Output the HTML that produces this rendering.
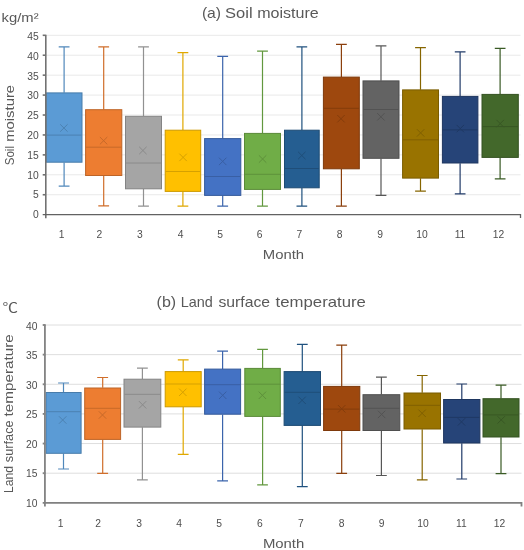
<!DOCTYPE html>
<html><head><meta charset="utf-8"><title>Soil moisture and land surface temperature</title>
<style>
html,body{margin:0;padding:0;background:#fff}
svg{display:block}
text{font-family:"Liberation Sans","Noto Sans CJK SC",sans-serif;fill:#595959}
text.t{fill:#4E4E4E}
</style></head><body>
<svg width="524" height="550" viewBox="0 0 524 550">
<rect width="524" height="550" fill="#fff"/>

<line x1="45.5" x2="520.5" y1="35.30" y2="35.30" stroke="#E9E9E9" stroke-width="1"/>
<line x1="45.5" x2="520.5" y1="55.23" y2="55.23" stroke="#E9E9E9" stroke-width="1"/>
<line x1="45.5" x2="520.5" y1="75.16" y2="75.16" stroke="#E9E9E9" stroke-width="1"/>
<line x1="45.5" x2="520.5" y1="95.09" y2="95.09" stroke="#E9E9E9" stroke-width="1"/>
<line x1="45.5" x2="520.5" y1="115.02" y2="115.02" stroke="#E9E9E9" stroke-width="1"/>
<line x1="45.5" x2="520.5" y1="134.95" y2="134.95" stroke="#E9E9E9" stroke-width="1"/>
<line x1="45.5" x2="520.5" y1="154.88" y2="154.88" stroke="#E9E9E9" stroke-width="1"/>
<line x1="45.5" x2="520.5" y1="174.81" y2="174.81" stroke="#E9E9E9" stroke-width="1"/>
<line x1="45.5" x2="520.5" y1="194.74" y2="194.74" stroke="#E9E9E9" stroke-width="1"/>
<g stroke="#487CAA" stroke-width="1" fill="none">
<path stroke="#5088BB" stroke-width="1.2" d="M64.1 46.8V92.7M58.7 46.8H69.5M64.1 162.4V186.2M58.7 186.2H69.5"/>
<rect x="46.2" y="92.9" width="35.8" height="69.3" fill="#5B9BD5"/>
<path stroke="#4C82B2" d="M46.5 135.1H81.7"/>
<path stroke="#4C82B2" d="M60.2 124.3L67.6 131.7M60.2 131.7L67.6 124.3"/>
</g>
<g stroke="#BD6427" stroke-width="1" fill="none">
<path stroke="#D06E2B" stroke-width="1.2" d="M103.7 46.8V109.5M98.3 46.8H109.1M103.7 175.7V205.8M98.3 205.8H109.1"/>
<rect x="85.6" y="109.7" width="36.2" height="65.8" fill="#ED7D31"/>
<path stroke="#C76929" d="M85.9 147.2H121.5"/>
<path stroke="#C76929" d="M99.9 137.0L107.3 144.4M99.9 144.4L107.3 137.0"/>
</g>
<g stroke="#848484" stroke-width="1" fill="none">
<path stroke="#919191" stroke-width="1.2" d="M143.5 46.8V116.1M138.1 46.8H148.9M143.5 189.0V206.1M138.1 206.1H148.9"/>
<rect x="125.5" y="116.3" width="36.0" height="72.5" fill="#A5A5A5"/>
<path stroke="#8A8A8A" d="M125.8 163.0H161.2"/>
<path stroke="#8A8A8A" d="M139.2 146.8L146.6 154.2M139.2 154.2L146.6 146.8"/>
</g>
<g stroke="#CC9900" stroke-width="1" fill="none">
<path stroke="#E0A800" stroke-width="1.2" d="M182.9 52.6V130.0M177.5 52.6H188.3M182.9 191.6V206.1M177.5 206.1H188.3"/>
<rect x="165.2" y="130.2" width="35.5" height="61.2" fill="#FFC000"/>
<path stroke="#D6A100" d="M165.5 171.5H200.4"/>
<path stroke="#D6A100" d="M179.4 153.7L186.8 161.1M179.4 161.1L186.8 153.7"/>
</g>
<g stroke="#365B9C" stroke-width="1" fill="none">
<path stroke="#3B64AC" stroke-width="1.2" d="M222.7 56.3V138.4M217.3 56.3H228.1M222.7 195.6V206.1M217.3 206.1H228.1"/>
<rect x="204.6" y="138.6" width="36.2" height="56.8" fill="#4472C4"/>
<path stroke="#395FA4" d="M204.9 176.5H240.5"/>
<path stroke="#395FA4" d="M219.0 157.7L226.4 165.1M219.0 165.1L226.4 157.7"/>
</g>
<g stroke="#598A38" stroke-width="1" fill="none">
<path stroke="#62983E" stroke-width="1.2" d="M262.5 51.1V133.2M257.1 51.1H267.9M262.5 189.6V206.1M257.1 206.1H267.9"/>
<rect x="244.5" y="133.4" width="36.0" height="56.0" fill="#70AD47"/>
<path stroke="#5E913B" d="M244.8 174.3H280.2"/>
<path stroke="#5E913B" d="M258.9 155.3L266.3 162.7M258.9 162.7L266.3 155.3"/>
</g>
<g stroke="#1D4B74" stroke-width="1" fill="none">
<path stroke="#20527F" stroke-width="1.2" d="M301.9 46.8V130.0M296.5 46.8H307.2M301.9 188.0V206.1M296.5 206.1H307.2"/>
<rect x="284.5" y="130.2" width="34.7" height="57.6" fill="#255E91"/>
<path stroke="#1F4E79" d="M284.8 168.5H318.9"/>
<path stroke="#1F4E79" d="M298.1 151.8L305.5 159.2M298.1 159.2L305.5 151.8"/>
</g>
<g stroke="#7E390B" stroke-width="1" fill="none">
<path stroke="#8B3F0C" stroke-width="1.2" d="M341.4 44.3V76.9M336.0 44.3H346.8M341.4 169.0V206.1M336.0 206.1H346.8"/>
<rect x="323.4" y="77.1" width="35.9" height="91.7" fill="#9E480E"/>
<path stroke="#843C0B" d="M323.7 108.3H359.0"/>
<path stroke="#843C0B" d="M337.3 115.0L344.7 122.4M337.3 122.4L344.7 115.0"/>
</g>
<g stroke="#4F4F4F" stroke-width="1" fill="none">
<path stroke="#575757" stroke-width="1.2" d="M381.0 45.8V80.7M375.6 45.8H386.4M381.0 158.5V195.4M375.6 195.4H386.4"/>
<rect x="363.0" y="80.9" width="36.0" height="77.4" fill="#636363"/>
<path stroke="#535353" d="M363.3 109.5H398.7"/>
<path stroke="#535353" d="M377.2 113.1L384.6 120.5M377.2 120.5L384.6 113.1"/>
</g>
<g stroke="#7A5C00" stroke-width="1" fill="none">
<path stroke="#866500" stroke-width="1.2" d="M420.5 47.6V89.7M415.1 47.6H425.9M420.5 178.3V191.1M415.1 191.1H425.9"/>
<rect x="402.6" y="89.9" width="35.9" height="88.2" fill="#997300"/>
<path stroke="#806000" d="M402.9 139.8H438.2"/>
<path stroke="#806000" d="M416.9 129.2L424.3 136.6M416.9 136.6L424.3 129.2"/>
</g>
<g stroke="#1E3660" stroke-width="1" fill="none">
<path stroke="#213B69" stroke-width="1.2" d="M460.1 51.8V96.2M454.8 51.8H465.5M460.1 163.2V193.9M454.8 193.9H465.5"/>
<rect x="442.4" y="96.4" width="35.5" height="66.6" fill="#264478"/>
<path stroke="#1F3964" d="M442.7 129.9H477.6"/>
<path stroke="#1F3964" d="M456.6 124.9L464.0 132.3M456.6 132.3L464.0 124.9"/>
</g>
<g stroke="#355322" stroke-width="1" fill="none">
<path stroke="#3A5B25" stroke-width="1.2" d="M500.1 48.3V94.2M494.8 48.3H505.5M500.1 157.6V178.8M494.8 178.8H505.5"/>
<rect x="482.0" y="94.4" width="36.3" height="63.0" fill="#43682B"/>
<path stroke="#385724" d="M482.3 126.6H518.0"/>
<path stroke="#385724" d="M496.5 119.9L503.9 127.3M496.5 127.3L503.9 119.9"/>
</g>
<g stroke="#727272" stroke-width="1.60" fill="none">
<path d="M45.8 34.8V218.2"/>
<path stroke="#626262" stroke-width="1.30" d="M42.7 214.6H520.5V218.1"/>
<path d="M42.7 35.30H45.5"/>
<path d="M42.7 55.23H45.5"/>
<path d="M42.7 75.16H45.5"/>
<path d="M42.7 95.09H45.5"/>
<path d="M42.7 115.02H45.5"/>
<path d="M42.7 134.95H45.5"/>
<path d="M42.7 154.88H45.5"/>
<path d="M42.7 174.81H45.5"/>
<path d="M42.7 194.74H45.5"/>
</g>
<text x="38.7" y="40.0" font-size="10.3" class="t" text-anchor="end">45</text>
<text x="38.7" y="59.8" font-size="10.3" class="t" text-anchor="end">40</text>
<text x="38.7" y="79.6" font-size="10.3" class="t" text-anchor="end">35</text>
<text x="38.7" y="99.4" font-size="10.3" class="t" text-anchor="end">30</text>
<text x="38.7" y="119.1" font-size="10.3" class="t" text-anchor="end">25</text>
<text x="38.7" y="138.9" font-size="10.3" class="t" text-anchor="end">20</text>
<text x="38.7" y="158.7" font-size="10.3" class="t" text-anchor="end">15</text>
<text x="38.7" y="178.5" font-size="10.3" class="t" text-anchor="end">10</text>
<text x="38.7" y="198.3" font-size="10.3" class="t" text-anchor="end">5</text>
<text x="38.7" y="218.1" font-size="10.3" class="t" text-anchor="end">0</text>
<text x="61.5" y="238.1" font-size="10.3" class="t" text-anchor="middle">1</text>
<text x="99.4" y="238.1" font-size="10.3" class="t" text-anchor="middle">2</text>
<text x="139.9" y="238.1" font-size="10.3" class="t" text-anchor="middle">3</text>
<text x="180.6" y="238.1" font-size="10.3" class="t" text-anchor="middle">4</text>
<text x="220.2" y="238.1" font-size="10.3" class="t" text-anchor="middle">5</text>
<text x="259.5" y="238.1" font-size="10.3" class="t" text-anchor="middle">6</text>
<text x="299.3" y="238.1" font-size="10.3" class="t" text-anchor="middle">7</text>
<text x="339.7" y="238.1" font-size="10.3" class="t" text-anchor="middle">8</text>
<text x="380.1" y="238.1" font-size="10.3" class="t" text-anchor="middle">9</text>
<text x="421.9" y="238.1" font-size="10.3" class="t" text-anchor="middle">10</text>
<text x="460.0" y="238.1" font-size="10.3" class="t" text-anchor="middle">11</text>
<text x="498.4" y="238.1" font-size="10.3" class="t" text-anchor="middle">12</text>
<line x1="45.5" x2="521.5" y1="325.00" y2="325.00" stroke="#DEDEDE" stroke-width="1"/>
<line x1="45.5" x2="521.5" y1="354.64" y2="354.64" stroke="#DEDEDE" stroke-width="1"/>
<line x1="45.5" x2="521.5" y1="384.28" y2="384.28" stroke="#DEDEDE" stroke-width="1"/>
<line x1="45.5" x2="521.5" y1="413.92" y2="413.92" stroke="#DEDEDE" stroke-width="1"/>
<line x1="45.5" x2="521.5" y1="443.56" y2="443.56" stroke="#DEDEDE" stroke-width="1"/>
<line x1="45.5" x2="521.5" y1="473.20" y2="473.20" stroke="#DEDEDE" stroke-width="1"/>
<g stroke="#487CAA" stroke-width="1" fill="none">
<path stroke="#5088BB" stroke-width="1.2" d="M63.5 383.0V392.3M58.1 383.0H69.0M63.5 453.5V469.0M58.1 469.0H69.0"/>
<rect x="46.0" y="392.5" width="35.1" height="60.8" fill="#5B9BD5"/>
<path stroke="#4C82B2" d="M46.3 411.7H80.8"/>
<path stroke="#4C82B2" d="M59.0 416.3L66.4 423.7M59.0 423.7L66.4 416.3"/>
</g>
<g stroke="#BD6427" stroke-width="1" fill="none">
<path stroke="#D06E2B" stroke-width="1.2" d="M102.7 377.5V387.8M97.2 377.5H108.1M102.7 439.6V473.3M97.2 473.3H108.1"/>
<rect x="84.7" y="388.0" width="35.9" height="51.4" fill="#ED7D31"/>
<path stroke="#C76929" d="M85.0 408.3H120.3"/>
<path stroke="#C76929" d="M98.8 411.3L106.2 418.7M98.8 418.7L106.2 411.3"/>
</g>
<g stroke="#848484" stroke-width="1" fill="none">
<path stroke="#919191" stroke-width="1.2" d="M142.4 368.2V379.0M137.0 368.2H147.8M142.4 427.3V479.9M137.0 479.9H147.8"/>
<rect x="124.0" y="379.2" width="36.8" height="47.9" fill="#A5A5A5"/>
<path stroke="#8A8A8A" d="M124.3 394.3H160.5"/>
<path stroke="#8A8A8A" d="M138.9 401.1L146.3 408.5M138.9 408.5L146.3 401.1"/>
</g>
<g stroke="#CC9900" stroke-width="1" fill="none">
<path stroke="#E0A800" stroke-width="1.2" d="M183.2 359.9V371.4M177.8 359.9H188.6M183.2 407.0V454.3M177.8 454.3H188.6"/>
<rect x="165.2" y="371.6" width="36.0" height="35.2" fill="#FFC000"/>
<path stroke="#D6A100" d="M165.5 384.0H200.9"/>
<path stroke="#D6A100" d="M179.1 388.6L186.5 396.0M179.1 396.0L186.5 388.6"/>
</g>
<g stroke="#365B9C" stroke-width="1" fill="none">
<path stroke="#3B64AC" stroke-width="1.2" d="M222.6 351.1V368.9M217.2 351.1H228.0M222.6 414.4V480.8M217.2 480.8H228.0"/>
<rect x="204.6" y="369.1" width="36.0" height="45.1" fill="#4472C4"/>
<path stroke="#395FA4" d="M204.9 384.7H240.3"/>
<path stroke="#395FA4" d="M219.0 391.6L226.4 399.0M219.0 399.0L226.4 391.6"/>
</g>
<g stroke="#598A38" stroke-width="1" fill="none">
<path stroke="#62983E" stroke-width="1.2" d="M262.6 349.4V368.2M257.2 349.4H267.9M262.6 416.6V484.8M257.2 484.8H267.9"/>
<rect x="244.8" y="368.4" width="35.5" height="48.0" fill="#70AD47"/>
<path stroke="#5E913B" d="M245.1 384.2H280.0"/>
<path stroke="#5E913B" d="M258.7 391.6L266.1 399.0M258.7 399.0L266.1 391.6"/>
</g>
<g stroke="#1D4B74" stroke-width="1" fill="none">
<path stroke="#20527F" stroke-width="1.2" d="M302.3 344.3V371.4M296.9 344.3H307.7M302.3 425.6V486.6M296.9 486.6H307.7"/>
<rect x="284.1" y="371.6" width="36.4" height="53.8" fill="#255E91"/>
<path stroke="#1F4E79" d="M284.4 392.3H320.2"/>
<path stroke="#1F4E79" d="M298.4 396.6L305.8 404.0M298.4 404.0L305.8 396.6"/>
</g>
<g stroke="#7E390B" stroke-width="1" fill="none">
<path stroke="#8B3F0C" stroke-width="1.2" d="M341.7 345.1V386.2M336.3 345.1H347.1M341.7 430.7V473.3M336.3 473.3H347.1"/>
<rect x="323.6" y="386.4" width="36.2" height="44.1" fill="#9E480E"/>
<path stroke="#843C0B" d="M323.9 409.1H359.5"/>
<path stroke="#843C0B" d="M338.0 405.1L345.4 412.5M338.0 412.5L345.4 405.1"/>
</g>
<g stroke="#4F4F4F" stroke-width="1" fill="none">
<path stroke="#575757" stroke-width="1.2" d="M381.4 377.2V394.5M376.0 377.2H386.8M381.4 430.7V475.5M376.0 475.5H386.8"/>
<rect x="363.0" y="394.7" width="36.8" height="35.8" fill="#636363"/>
<path stroke="#535353" d="M363.3 408.3H399.5"/>
<path stroke="#535353" d="M377.9 410.7L385.3 418.1M377.9 418.1L385.3 410.7"/>
</g>
<g stroke="#7A5C00" stroke-width="1" fill="none">
<path stroke="#866500" stroke-width="1.2" d="M422.2 375.5V392.8M416.9 375.5H427.6M422.2 429.2V479.8M416.9 479.8H427.6"/>
<rect x="404.0" y="393.0" width="36.5" height="36.0" fill="#997300"/>
<path stroke="#806000" d="M404.3 405.3H440.2"/>
<path stroke="#806000" d="M418.4 409.6L425.8 417.0M418.4 417.0L425.8 409.6"/>
</g>
<g stroke="#1E3660" stroke-width="1" fill="none">
<path stroke="#213B69" stroke-width="1.2" d="M461.8 384.0V399.3M456.4 384.0H467.1M461.8 443.2V479.0M456.4 479.0H467.1"/>
<rect x="443.6" y="399.5" width="36.3" height="43.5" fill="#264478"/>
<path stroke="#1F3964" d="M443.9 417.4H479.6"/>
<path stroke="#1F3964" d="M457.8 418.2L465.2 425.6M457.8 425.6L465.2 418.2"/>
</g>
<g stroke="#355322" stroke-width="1" fill="none">
<path stroke="#3A5B25" stroke-width="1.2" d="M501.0 385.2V398.5M495.6 385.2H506.4M501.0 437.2V473.7M495.6 473.7H506.4"/>
<rect x="483.0" y="398.7" width="36.0" height="38.3" fill="#43682B"/>
<path stroke="#385724" d="M483.3 414.9H518.7"/>
<path stroke="#385724" d="M497.5 416.2L504.9 423.6M497.5 423.6L504.9 416.2"/>
</g>
<g stroke="#848484" stroke-width="1.85" fill="none">
<path d="M44.9 324.5V506.5"/>
<path stroke="#808080" stroke-width="1.80" d="M42.7 502.9H521.5V506.4"/>
<path d="M42.7 325.00H45.5"/>
<path d="M42.7 354.64H45.5"/>
<path d="M42.7 384.28H45.5"/>
<path d="M42.7 413.92H45.5"/>
<path d="M42.7 443.56H45.5"/>
<path d="M42.7 473.20H45.5"/>
</g>
<text x="37.4" y="329.7" font-size="10.3" class="t" text-anchor="end">40</text>
<text x="37.4" y="359.2" font-size="10.3" class="t" text-anchor="end">35</text>
<text x="37.4" y="388.7" font-size="10.3" class="t" text-anchor="end">30</text>
<text x="37.4" y="418.2" font-size="10.3" class="t" text-anchor="end">25</text>
<text x="37.4" y="447.7" font-size="10.3" class="t" text-anchor="end">20</text>
<text x="37.4" y="477.2" font-size="10.3" class="t" text-anchor="end">15</text>
<text x="37.4" y="506.8" font-size="10.3" class="t" text-anchor="end">10</text>
<text x="60.5" y="526.6" font-size="10.3" class="t" text-anchor="middle">1</text>
<text x="98.1" y="526.6" font-size="10.3" class="t" text-anchor="middle">2</text>
<text x="139.0" y="526.6" font-size="10.3" class="t" text-anchor="middle">3</text>
<text x="179.1" y="526.6" font-size="10.3" class="t" text-anchor="middle">4</text>
<text x="219.2" y="526.6" font-size="10.3" class="t" text-anchor="middle">5</text>
<text x="259.9" y="526.6" font-size="10.3" class="t" text-anchor="middle">6</text>
<text x="300.8" y="526.6" font-size="10.3" class="t" text-anchor="middle">7</text>
<text x="341.5" y="526.6" font-size="10.3" class="t" text-anchor="middle">8</text>
<text x="381.6" y="526.6" font-size="10.3" class="t" text-anchor="middle">9</text>
<text x="423.1" y="526.6" font-size="10.3" class="t" text-anchor="middle">10</text>
<text x="461.3" y="526.6" font-size="10.3" class="t" text-anchor="middle">11</text>
<text x="499.6" y="526.6" font-size="10.3" class="t" text-anchor="middle">12</text>
<text x="201.9" y="18.3" font-size="15.0" textLength="19.2" lengthAdjust="spacingAndGlyphs">(a)</text>
<text x="225.1" y="18.3" font-size="15.0" textLength="27.5" lengthAdjust="spacingAndGlyphs">Soil</text>
<text x="257.2" y="18.3" font-size="15.0" textLength="61.6" lengthAdjust="spacingAndGlyphs">moisture</text>
<text x="156.6" y="307.4" font-size="15.0" textLength="19.6" lengthAdjust="spacingAndGlyphs">(b)</text>
<text x="180.8" y="307.4" font-size="15.0" textLength="32.1" lengthAdjust="spacingAndGlyphs">Land</text>
<text x="218.4" y="307.4" font-size="15.0" textLength="51.7" lengthAdjust="spacingAndGlyphs">surface</text>
<text x="275.6" y="307.4" font-size="15.0" textLength="90.3" lengthAdjust="spacingAndGlyphs">temperature</text>
<text x="262.8" y="259.4" font-size="13.4" textLength="41.3" lengthAdjust="spacingAndGlyphs">Month</text>
<text x="262.9" y="547.5" font-size="13.4" textLength="41.4" lengthAdjust="spacingAndGlyphs">Month</text>
<text x="1.6" y="22.0" font-size="13.4" textLength="37.0" lengthAdjust="spacingAndGlyphs">kg/m²</text>
<text x="2.6" y="312.4" font-size="12.6" textLength="15.5" lengthAdjust="spacingAndGlyphs">℃</text>
<text transform="translate(13.6 165.2) rotate(-90)" font-size="13.4" textLength="19.2" lengthAdjust="spacingAndGlyphs">Soil</text>
<text transform="translate(13.6 141.8) rotate(-90)" font-size="13.4" textLength="56.9" lengthAdjust="spacingAndGlyphs">moisture</text>
<text transform="translate(13.2 492.9) rotate(-90)" font-size="13.4" textLength="27.0" lengthAdjust="spacingAndGlyphs">Land</text>
<text transform="translate(13.2 462.2) rotate(-90)" font-size="13.4" textLength="41.8" lengthAdjust="spacingAndGlyphs">surface</text>
<text transform="translate(13.2 416.4) rotate(-90)" font-size="13.4" textLength="82.1" lengthAdjust="spacingAndGlyphs">temperature</text>
</svg></body></html>
